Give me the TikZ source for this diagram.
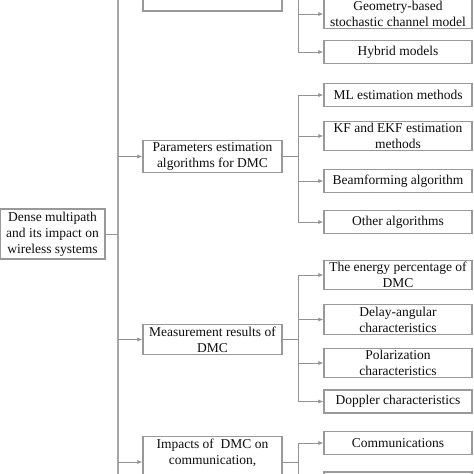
\documentclass[tikz,border=0pt]{standalone}
\usepackage{fontspec}
\setmainfont{Liberation Serif}
\usetikzlibrary{arrows.meta}

\begin{document}
\begin{tikzpicture}[x=1pt, y=-1pt,
    every node/.style={font=\fontsize{13.5}{16}\selectfont, text=black!95},
    box/.style={draw=gray!80, line width=1.1pt, fill=white, align=center,
      inner xsep=3pt, inner ysep=2pt, minimum height=23pt},
    lvone/.style={box, minimum width=139pt},
    lvtwo/.style={box, minimum width=148pt},
    link/.style={draw=gray!85, line width=0.9pt},
    arr/.style={link, -{Latex[length=5pt,width=4pt]}}]
      \clip (0,0) rectangle (474,474);
      % main trunk
      \coordinate (ttop) at (118,-12);
      \coordinate (tbot) at (118,490);
      \draw[draw=gray!70, line width=1.6pt] (ttop) -- (tbot);
      % root box
      \node[box, minimum width=105pt, minimum height=50pt] (root) at (52.5,234)
        {Dense multipath\\and its impact on\\wireless systems};
      \draw[link] (root.east) -- (root.east -| ttop);
      % first level boxes
      \node[lvone, minimum height=40pt] (models) at (212.5,-9) {};
      \node[lvone] (params) at (212.5,156.5) {Parameters estimation\\algorithms for DMC};
      \node[lvone] (measure) at (212.5,339.5) {Measurement results of\\DMC};
      \node[lvone] (impacts) at (212.5,462) {Impacts of~ DMC on\\communication,\\\strut};
      \foreach \n in {models,params,measure,impacts}
        \draw[arr] (\n.west -| ttop) -- (\n.west);
      % channel models
      \node[lvtwo] (gbsc) at (398,14) {Geometry-based\\stochastic channel model};
      \node[lvtwo] (hybrid) at (398,52) {Hybrid models};
      \draw[link] (models.east) -- ++(16,0) coordinate (j1);
      \draw[link] (j1) -- ++(0,-10);
      \foreach \n in {gbsc,hybrid}
        \draw[arr] (j1) |- (\n.west);
      % estimation algorithms
      \node[lvtwo] (ml) at (398,95) {ML estimation methods};
      \node[lvtwo] (kf) at (398,136) {KF and EKF estimation\\methods};
      \node[lvtwo] (beam) at (398,181) {Beamforming algorithm};
      \node[lvtwo] (other) at (398,222) {Other algorithms};
      \draw[link] (params.east) -- ++(16,0) coordinate (j2);
      \foreach \n in {ml,kf,beam,other}
        \draw[arr] (j2) |- (\n.west);
      % measurement results
      \node[lvtwo] (energy) at (398,275) {The energy percentage of\\DMC};
      \node[lvtwo] (delay) at (398,319.5) {Delay-angular\\characteristics};
      \node[lvtwo] (polar) at (398,363) {Polarization\\characteristics};
      \node[lvtwo] (doppler) at (398,401.5) {Doppler characteristics};
      \draw[link] (measure.east) -- ++(16,0) coordinate (j3);
      \foreach \n in {energy,delay,polar,doppler}
        \draw[arr] (j3) |- (\n.west);
      % impacts
      \node[lvtwo] (comm) at (398,443) {Communications};
      \node[lvtwo, minimum height=24pt] (nextbox) at (398,484) {};
      \draw[link] (impacts.east) -- ++(16,0) coordinate (j4);
      \foreach \n in {comm,nextbox}
        \draw[arr] (j4) |- (\n.west);
\end{tikzpicture}
\end{document}
